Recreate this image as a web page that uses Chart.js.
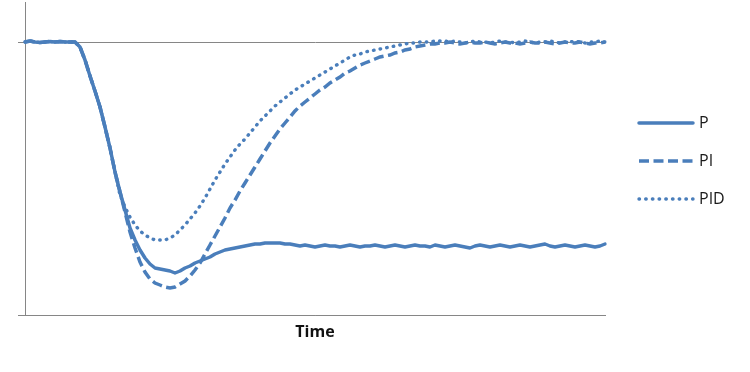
<!DOCTYPE html>
<html>
<head>
<meta charset="utf-8">
<script src="https://cdn.jsdelivr.net/npm/chart.js@4"></script>
<style>
  html, body { margin: 0; padding: 0; background: #fff; }
  #wrap { width: 750px; height: 372px; }
</style>
</head>
<body>
<div id="wrap"><canvas id="pidChart" width="750" height="372"></canvas></div>
<script>
// deviation from setpoint, one sample every step (setpoint = 0, bottom of axis = -273)
const P = [0, 1, 0, -0.5, 0, 0.5, 0, 0.5, 0, 0, 0,
    -5, -18, -34, -49, -65, -85, -106, -130, -150,
    -168, -186, -198, -208, -216, -222, -226, -227, -228, -229, -231,
    -229, -226, -224, -221, -219, -217, -215, -212, -210, -208, -207, -206, -205, -204,
    -203, -202, -202, -201, -201, -201, -201, -202, -202, -203,
    -204, -203, -204, -205, -204, -203, -204, -204, -205, -204,
    -203, -204, -205, -204, -204, -203, -204, -205, -204, -203,
    -204, -205, -204, -203, -204, -204, -205, -203, -204, -205,
    -204, -203, -204, -205, -206, -204, -203, -204, -205, -204,
    -203, -204, -205, -204, -203, -204, -205, -204, -203, -202,
    -204, -205, -204, -203, -204, -205, -204, -203, -204, -205,
    -204, -202];

const PI = [0, 1, 0, -0.5, 0, 0.5, 0, 0.5, 0, 0, 0,
    -5, -18, -34, -49, -65, -85, -106, -130, -150,
    -170, -190, -206, -220, -230, -237, -241, -243, -245, -246, -245,
    -242, -239, -234, -228, -221, -212, -203, -194, -185, -176, -166, -158, -149, -141,
    -133, -125, -117, -109, -101, -94, -87, -81, -75, -69,
    -64, -60, -56, -52, -48, -45, -41, -38, -35, -31,
    -29, -26, -23, -21, -19, -17, -15, -14, -13, -11,
    -10, -8, -7, -5, -4, -3, -2, -2, -1,
    -1, 0, -1, -2, -1, 0, -1, -1, 0, -1,
    -2, -1, 0, -1, -1, -2, -1, 0, -1, -1,
    0, -1, -2, -1, 0, -1, -1, 0, -1, -2,
    -1, -1, 0];

const PID = [0, 1, 0, -0.5, 0, 0.5, 0, 0.5, 0, 0, 0,
    -5, -18, -34, -49, -65, -85, -106, -130,
    -153, -165, -175, -183, -189, -193, -196, -198, -198, -198, -196, -193,
    -188, -183, -177, -171, -164, -156, -147, -138, -130, -122, -115, -108, -102, -97,
    -91, -85, -79, -74, -69, -64, -60, -56, -52, -48,
    -45, -42, -39, -36, -33, -30, -27, -24, -21, -18,
    -15, -13, -12, -10, -9, -8, -7, -6, -5, -4,
    -3, -2, -1, -1, 0, 0, 0, 1, 1,
    1, 0, 1, 0, -1, 0, 1, 0, 0, -1,
    0, 1, 0, 0, -1, 0, 1, 0, -1, 0,
    0, 1, 0, -1, 0, 0, 1, 0, -1, 0,
    0, 1, 0];

const time = P.map((_, i) => i);
const yTicks = [-273, 0];

const blue = '#4A7EBB';
const axisGray = '#868686';

// legend drawn by hand so the line styles show like the original
const sideLegend = {
    id: 'sideLegend',
    afterDraw(chart) {
        const ctx = chart.ctx;
        chart.data.datasets.forEach(function(ds, i) {
            const y = 123 + i * 38;
            ctx.save();
            ctx.strokeStyle = ds.borderColor;
            ctx.lineWidth = ds.borderWidth;
            ctx.lineCap = ds.borderCapStyle || 'butt';
            ctx.setLineDash(ds.borderDash || []);
            ctx.beginPath();
            ctx.moveTo(639, y);
            ctx.lineTo(693, y);
            ctx.stroke();
            ctx.restore();
            ctx.save();
            ctx.fillStyle = '#1a1a1a';
            ctx.font = "16px 'Open Sans', sans-serif";
            ctx.textBaseline = 'middle';
            ctx.fillText(ds.label, 699, y);
            ctx.restore();
        });
    }
};

const ctx = document.getElementById('pidChart').getContext('2d');
new Chart(ctx, {
    type: 'line',
    data: {
        labels: time,
        datasets: [{
            label: 'P',
            data: P,
            borderColor: blue,
            borderWidth: 3.5,
            borderCapStyle: 'round',
            borderJoinStyle: 'round'
        }, {
            label: 'PI',
            data: PI,
            borderColor: blue,
            borderWidth: 3.5,
            borderDash: [10, 4.5],
            borderCapStyle: 'butt'
        }, {
            label: 'PID',
            data: PID,
            borderColor: blue,
            borderWidth: 3.4,
            borderDash: [0.5, 6.2],
            borderCapStyle: 'round'
        }]
    },
    options: {
        responsive: false,
        animation: false,
        events: [],
        layout: {
            padding: { left: 18, right: 145, top: 2, bottom: 26.4 }
        },
        elements: {
            point: { radius: 0 },
            line: { tension: 0 }
        },
        plugins: {
            legend: { display: false },
            tooltip: { enabled: false }
        },
        scales: {
            x: {
                type: 'category',
                ticks: { display: false },
                grid: { display: false, drawTicks: false },
                border: { display: true, color: axisGray, width: 1 },
                title: {
                    display: true,
                    text: 'Time',
                    color: '#111',
                    font: { family: "'Open Sans', sans-serif", size: 16, weight: 'bold' },
                    padding: { top: 7.4, bottom: 4 }
                }
            },
            y: {
                min: -273,
                max: 40,
                afterBuildTicks: function(scale) {
                    scale.ticks = yTicks.map(v => ({ value: v }));
                },
                ticks: { display: false },
                grid: { color: axisGray, lineWidth: 1, tickLength: 7, drawTicks: true },
                border: { display: true, color: axisGray, width: 1 }
            }
        }
    },
    plugins: [sideLegend]
});
</script>
</body>
</html>
